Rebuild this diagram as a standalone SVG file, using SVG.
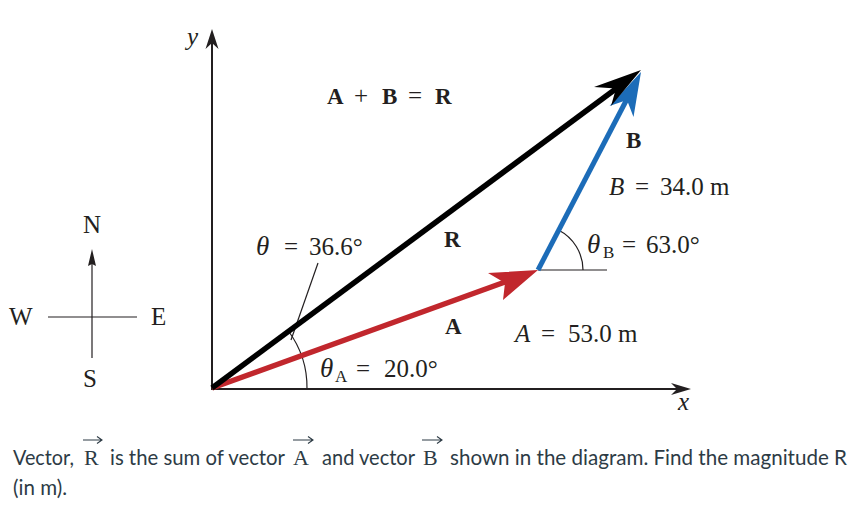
<svg xmlns="http://www.w3.org/2000/svg" width="866" height="524" viewBox="0 0 866 524">
<style>
.ser{font-family:"Liberation Serif","Times New Roman",serif;fill:#231f20}
.lbl{font-size:25px}
.bld{font-weight:bold;font-size:23px}
.it{font-style:italic}
.th{font-style:italic;font-size:27px}
.sub{font-size:17px}
.ax{stroke:#231f20;stroke-width:2;fill:none}
.thin{stroke:#231f20;stroke-width:1.2;fill:none}
.body{font-family:Lato,"Open Sans",sans-serif;font-size:20.5px;fill:#2d3b45}
.vec{font-family:"Liberation Serif","Times New Roman",serif;font-size:22px;fill:#2d3b45}
.va{stroke:#2d3b45;stroke-width:1.1;fill:none}
</style>
<rect width="866" height="524" fill="#ffffff"/>

<g id="axes">
  <line class="ax" x1="212" y1="389" x2="212" y2="42"/>
  <polygon points="212,29 218.5,49 212,43 205.5,49" fill="#231f20"/>
  <line class="ax" x1="211" y1="389" x2="678" y2="389"/>
  <polygon points="691,389 671,383 677,389 671,395" fill="#231f20"/>
  <text class="ser lbl it" x="187" y="45">y</text>
  <text class="ser lbl it" x="678" y="410">x</text>
</g>

<g id="compass">
  <line class="thin" x1="92" y1="358" x2="92" y2="262"/>
  <polygon points="92,249 96,266 92,264 88,266" fill="#231f20"/>
  <line class="thin" x1="48" y1="317" x2="137" y2="317"/>
  <text class="ser lbl" x="92" y="233" text-anchor="middle">N</text>
  <text class="ser lbl" x="90" y="387" text-anchor="middle">S</text>
  <text class="ser lbl" x="9" y="325">W</text>
  <text class="ser lbl" x="151" y="325">E</text>
</g>

<g id="angles">
  <path class="thin" d="M 288.4 331.0 A 95 95 0 0 1 307 389"/>
  <line class="thin" x1="318" y1="263" x2="291" y2="340"/>
  <line class="thin" x1="538" y1="270" x2="607" y2="270"/>
  <path class="thin" d="M 558.4 230 A 45 45 0 0 1 583 270"/>
</g>

<g id="connectors">
  <g id="vecB">
    <line x1="538" y1="270" x2="627" y2="99" stroke="#1c6cb8" stroke-width="5"/>
    <polygon points="641,72 633.5,117 627,100 609.5,106" fill="#1c6cb8"/>
  </g>
  <g id="vecA">
    <line x1="212" y1="388" x2="505" y2="282" stroke="#c1272d" stroke-width="5.5"/>
    <polygon points="538,270 503,300 505,283 488,273" fill="#c1272d"/>
  </g>
  <g id="vecR">
    <line x1="212" y1="388" x2="617" y2="88" stroke="#000" stroke-width="5.5"/>
    <polygon points="641,70 611,106 616,88.5 594,87" fill="#000"/>
  </g>
</g>

<g id="labels">
  <text class="ser bld" x="327" y="104">A</text>
  <text class="ser lbl" x="354" y="104">+</text>
  <text class="ser bld" x="382" y="104">B</text>
  <text class="ser lbl" x="408" y="104">=</text>
  <text class="ser bld" x="435" y="104">R</text>

  <text class="ser bld" x="626" y="148">B</text>
  <text class="ser lbl" x="609" y="195"><tspan class="it">B</tspan><tspan x="635">=</tspan><tspan x="660">34.0 m</tspan></text>

  <text class="ser lbl" x="256" y="255"><tspan class="th">θ</tspan><tspan x="284">=</tspan><tspan x="309">36.6°</tspan></text>
  <text class="ser bld" x="444" y="247">R</text>

  <text class="ser lbl" x="587" y="253"><tspan class="th">θ</tspan><tspan class="sub" x="603" y="258">B</tspan><tspan x="622" y="253">=</tspan><tspan x="646" y="253">63.0°</tspan></text>

  <text class="ser bld" x="445" y="334">A</text>
  <text class="ser lbl" x="515" y="342"><tspan class="it">A</tspan><tspan x="541">=</tspan><tspan x="568">53.0 m</tspan></text>

  <text class="ser lbl" x="320" y="377"><tspan class="th">θ</tspan><tspan class="sub" x="335" y="382">A</tspan><tspan x="356" y="377">=</tspan><tspan x="384" y="377">20.0°</tspan></text>
</g>

<g id="caption">
  <text class="body" x="13" y="465" textLength="61" lengthAdjust="spacingAndGlyphs">Vector,</text>
  <text class="vec" x="84" y="465">R</text>
  <path class="va" d="M 83 440 H 102 M 97 436.5 L 102 440 L 97 443.5"/>
  <text class="body" x="110" y="465" textLength="175" lengthAdjust="spacingAndGlyphs">is the sum of vector</text>
  <text class="vec" x="293" y="465">A</text>
  <path class="va" d="M 293 440 H 313 M 308 436.5 L 313 440 L 308 443.5"/>
  <text class="body" x="322" y="465" textLength="93" lengthAdjust="spacingAndGlyphs">and vector</text>
  <text class="vec" x="423" y="465">B</text>
  <path class="va" d="M 422 440 H 442 M 437 436.5 L 442 440 L 437 443.5"/>
  <text class="body" x="450" y="465" textLength="397" lengthAdjust="spacingAndGlyphs">shown in the diagram. Find the magnitude R</text>
  <text class="body" x="13" y="495" textLength="54" lengthAdjust="spacingAndGlyphs">(in m).</text>
</g>
</svg>
